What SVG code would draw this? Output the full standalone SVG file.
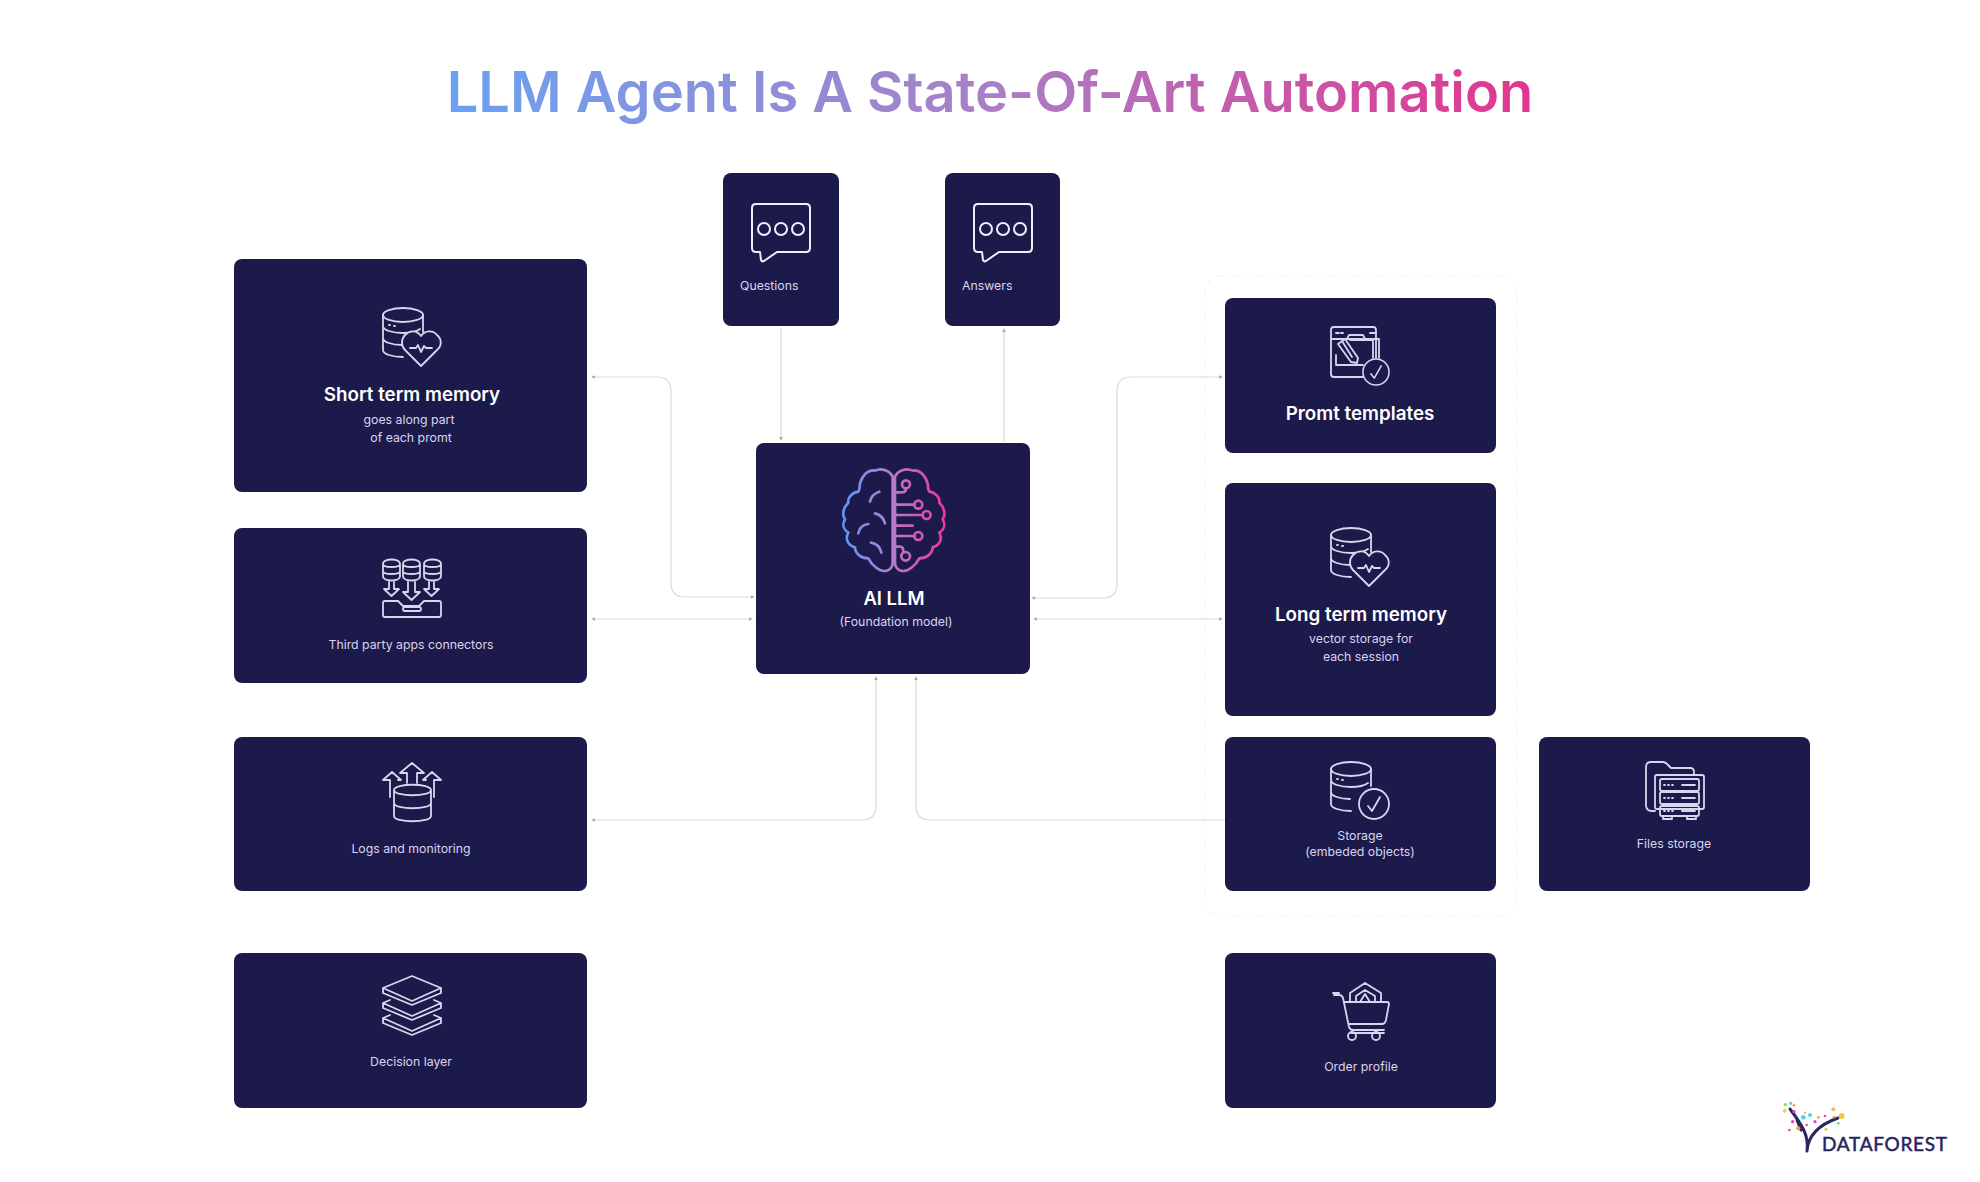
<svg xmlns="http://www.w3.org/2000/svg" xmlns:xlink="http://www.w3.org/1999/xlink" width="1980" height="1182" viewBox="0 0 1980 1182">
<style>
.card{fill:#1c1a4b}
.t{font-family:Inter,"Liberation Sans",sans-serif}
.h{font-weight:600;font-size:18.8px;fill:#fff;text-anchor:middle}
.s{font-size:12.3px;fill:#d8d5ee;text-anchor:middle}
.i{fill:none;stroke:#d8d5ee;stroke-width:1.8;stroke-linejoin:round;stroke-linecap:round}
.iw{fill:none;stroke:#f0eefa;stroke-width:2;stroke-linejoin:round;stroke-linecap:round}
.c{fill:none;stroke:#dadade;stroke-width:1.2}
</style>
<defs>
<linearGradient id="tg" gradientUnits="userSpaceOnUse" x1="447" y1="0" x2="1533" y2="0"><stop offset="0" stop-color="#6aa2f2"/><stop offset=".5" stop-color="#a97fc6"/><stop offset="1" stop-color="#e2358f"/></linearGradient>
<linearGradient id="bg" gradientUnits="userSpaceOnUse" x1="308" y1="0" x2="618" y2="0"><stop offset="0" stop-color="#5f97f0"/><stop offset=".45" stop-color="#b27fd0"/><stop offset="1" stop-color="#f0359a"/></linearGradient>
<marker id="a" viewBox="0 0 6 6" refX="5" refY="3" markerWidth="4" markerHeight="4" markerUnits="userSpaceOnUse" orient="auto-start-reverse"><path d="M0 0L6 3L0 6z" fill="#a9a9b6"/></marker>
<g id="db">
<ellipse cx="20" cy="7" rx="20" ry="7"/>
<path d="M0 7V42C0 46 9 49 20 49M40 7V24M0 18C0 22 9 25 20 25C27 25 33 24 37 21M0 30C0 34 9 37 19 37M0 30V18"/>
<path d="M6 17h1M11 18h1"/>
</g>
<g id="heart">
<path d="M19 35L3 19C-1 15 -1 8 3 4C8 -1 15 -1 19 5C23 -1 31 -1 35 4C40 8 40 15 35 19Z" class="i" style="fill:#1c1a4b"/>
<path d="M8 17h6l2-3 3 7 3-6 2 2h6"/>
</g>
<g id="check">
<circle r="15" style="fill:#1c1a4b"/>
<path d="M-6 2L-2 7L6 -7"/>
</g>
<g id="bubble">
<path d="M4 0H54Q58 0 58 4V44Q58 48 54 48H25L12 57Q10 58 9 56L8 48H4Q0 48 0 44V4Q0 0 4 0Z"/>
<circle cx="12" cy="25" r="6"/><circle cx="29" cy="25" r="6"/><circle cx="46" cy="25" r="6"/>
</g>
</defs>
<rect width="1980" height="1182" fill="#fff"/>
<text class="t" id="title" x="990" y="112" text-anchor="middle" font-size="56" font-weight="600" fill="url(#tg)">LLM Agent Is A State-Of-Art Automation</text>

<rect x="1205" y="276" width="312" height="640" rx="16" fill="none" stroke="#f4f4f7" stroke-width="1.2" stroke-dasharray="5 7"/>

<g id="connectors">
<path class="c" marker-start="url(#a)" marker-end="url(#a)" d="M754 597H685Q671 597 671 583V391Q671 377 657 377H592"/>
<path class="c" marker-start="url(#a)" marker-end="url(#a)" d="M592 619H752"/>
<path class="c" marker-start="url(#a)" marker-end="url(#a)" d="M876 677V806Q876 820 862 820H592"/>
<path class="c" marker-end="url(#a)" d="M781 328V440"/>
<path class="c" marker-end="url(#a)" d="M1004 442V329"/>
<path class="c" marker-start="url(#a)" marker-end="url(#a)" d="M1032 598H1103Q1117 598 1117 584V391Q1117 377 1131 377H1222"/>
<path class="c" marker-start="url(#a)" marker-end="url(#a)" d="M1034 619H1222"/>
<path class="c" marker-end="url(#a)" d="M1225 820H930Q916 820 916 806V677"/>
</g>

<g id="short-term-memory">
<rect class="card" x="234" y="259" width="353" height="233" rx="8"/>
<use href="#db" class="i" x="383" y="308"/>
<use href="#heart" class="i" x="402" y="331"/>
<text class="t h" x="412" y="401">Short term memory</text>
<text class="t s" x="409" y="424">goes along part</text>
<text class="t s" x="411" y="442">of each promt</text>
</g>

<g id="third-party">
<rect class="card" x="234" y="528" width="353" height="155" rx="8"/>
<g class="i">
<path d="M383 564c0-6 17-6 17 0v12c0 6-17 6-17 0zM383 571c0 4 17 4 17 0M383 564c0 4 17 4 17 0"/>
<path d="M403 564c0-6 17-6 17 0v12c0 6-17 6-17 0zM403 571c0 4 17 4 17 0M403 564c0 4 17 4 17 0"/>
<path d="M424 564c0-6 17-6 17 0v12c0 6-17 6-17 0zM424 571c0 4 17 4 17 0M424 564c0 4 17 4 17 0"/>
<path d="M389 582v7h-5l7.500 7 7.500-7h-5v-7M408 582v10h-5l8.500 8 8.500-8h-5v-10M429 582v7h-5l7.500 7 7.500-7h-5v-7"/>
<path d="M383 603v12q0 2 2 2h54q2 0 2-2v-12q0-2-2-2h-15l-5 5h-16l-5-5h-13q-2 0-2 2z"/>
<rect x="403" y="607" width="18" height="4" rx="2"/>
</g>
<text class="t s" x="411" y="649">Third party apps connectors</text>
</g>

<g id="logs">
<rect class="card" x="234" y="737" width="353" height="154" rx="8"/>
<g class="i">
<path d="M394 790c0-7 37-7 37 0v26c0 7-37 7-37 0zM394 790c0 7 37 7 37 0M394 803c0 7 37 7 37 0"/>
<path d="M407 783v-10h-7l12-10 12 10h-7v10"/>
<path d="M390 797v-17h-7l9-8 9 8h-3M434 797v-17h7l-9-8-9 8h3"/>
</g>
<text class="t s" x="411" y="853">Logs and monitoring</text>
</g>

<g id="decision">
<rect class="card" x="234" y="953" width="353" height="155" rx="8"/>
<g class="i">
<path d="M412 976L441 988V993L412 1005L383 993V988Z M383 988L412 1001L441 988"/>
<path d="M390 1000L383 1003V1008L412 1020L441 1008V1003L434 1000M383 1003L412 1016L441 1003"/>
<path d="M390 1015L383 1018V1023L412 1035L441 1023V1018L434 1015M383 1018L412 1031L441 1018"/>
</g>
<text class="t s" x="411" y="1066">Decision layer</text>
</g>

<g id="questions">
<rect class="card" x="723" y="173" width="116" height="153" rx="8"/>
<use href="#bubble" class="iw" x="752" y="204"/>
<text class="t s" x="740" y="290" style="text-anchor:start">Questions</text>
</g>

<g id="answers">
<rect class="card" x="945" y="173" width="115" height="153" rx="8"/>
<use href="#bubble" class="iw" x="974" y="204"/>
<text class="t s" x="962" y="290" style="text-anchor:start">Answers</text>
</g>

<g id="ai-llm">
<rect class="card" x="756" y="443" width="274" height="231" rx="8"/>
<g transform="translate(740 430) scale(.3333)" fill="none" stroke="url(#bg)" stroke-width="8" stroke-linecap="round" stroke-linejoin="round">
<path d="M458 400V140C450 122 425 112 405 122C385 118 368 135 360 160C358 172 360 180 355 185C335 188 322 205 325 218C310 232 305 255 315 268C305 285 312 300 325 308C315 325 322 345 345 352C345 372 365 385 385 385C395 405 420 428 440 422C450 420 458 410 458 400Z"/>
<path d="M465 400V140C473 122 498 112 518 122C538 118 555 135 563 160C565 172 563 180 568 185C588 188 601 205 598 218C613 232 618 255 608 268C618 285 611 300 598 308C608 325 601 345 578 352C578 372 558 385 538 385C528 405 503 428 483 422C473 420 465 410 465 400Z"/>
<path d="M465 187H488Q498 187 498 175"/><circle cx="498" cy="163" r="12"/>
<path d="M465 224H523"/><circle cx="535" cy="224" r="12"/>
<path d="M465 255H548"/><circle cx="560" cy="255" r="12"/>
<path d="M465 287H518"/>
<path d="M465 318H523"/><circle cx="535" cy="318" r="12"/>
<path d="M465 350H480Q490 350 490 365"/><circle cx="497" cy="379" r="13"/>
<path d="M390 215Q395 192 418 185M405 250Q428 255 435 280M355 310Q360 285 385 282M393 338Q418 342 424 368"/>
</g>
<text class="t" x="894" y="605" font-size="18.500" font-weight="600" fill="#fff" text-anchor="middle">AI LLM</text>
<text class="t s" x="896" y="626">(Foundation model)</text>
</g>

<g id="promt-templates">
<rect class="card" x="1225" y="298" width="271" height="155" rx="8"/>
<g class="i">
<path d="M1376 358V330q0-3-3-3H1334q-3 0-3 3v44q0 3 3 3H1363M1331 339H1379V358"/>
<path d="M1336 333h3M1341 333h2M1370 333h5M1347 339l2-4h14l2 4"/>
<path d="M1338 344L1345 339L1358 358L1357 363L1351 362ZM1342 341L1352 357"/>
<path d="M1350 340H1373V358M1336 355V365H1363"/>
</g>
<use href="#check" class="i" transform="translate(1376 372) scale(.87)"/>
<text class="t h" x="1360" y="420">Promt templates</text>
</g>

<g id="long-term-memory">
<rect class="card" x="1225" y="483" width="271" height="233" rx="8"/>
<use href="#db" class="i" x="1331" y="528"/>
<use href="#heart" class="i" x="1350" y="551"/>
<text class="t h" x="1361" y="621">Long term memory</text>
<text class="t s" x="1361" y="643">vector storage for</text>
<text class="t s" x="1361" y="661">each session</text>
</g>

<g id="storage">
<rect class="card" x="1225" y="737" width="271" height="154" rx="8"/>
<use href="#db" class="i" x="1331" y="762"/>
<use href="#check" class="i" x="1374" y="804"/>
<text class="t s" x="1360" y="840">Storage</text>
<text class="t s" x="1360" y="856">(embeded objects)</text>
</g>

<g id="files-storage">
<rect class="card" x="1539" y="737" width="271" height="154" rx="8"/>
<g class="i">
<path d="M1655 811H1652Q1646 811 1646 805V767Q1646 762 1651 762H1663Q1666 762 1668 765L1671 768H1690Q1694 768 1694 772V775"/>
<rect x="1655" y="775" width="49" height="34" rx="2"/>
<rect x="1660" y="779" width="39" height="12" rx="2"/>
<rect x="1660" y="792" width="39" height="12" rx="2"/>
<rect x="1660" y="806" width="39" height="10" rx="2"/>
<path d="M1664 785h1M1668 785h1M1672 785h1M1682 785h13M1664 798h1M1668 798h1M1672 798h1M1682 798h13M1664 811h1M1668 811h1M1672 811h1M1682 811h13M1663 816v3h9v-3M1687 816v3h9v-3"/>
</g>
<text class="t s" x="1674" y="848">Files storage</text>
</g>

<g id="order-profile">
<rect class="card" x="1225" y="953" width="271" height="155" rx="8"/>
<g class="i">
<path d="M1334 995H1339Q1342 995 1343 998L1349 1027Q1350 1030 1353 1030H1384M1351 1033H1384M1333 993H1339"/>
<path d="M1344 1002H1387Q1389 1002 1389 1004L1386 1020Q1385 1024 1382 1024H1349"/>
<path d="M1350 1002V993L1365 983L1381 993V1002M1356 1002V996L1365 990L1375 996V1002"/>
<path d="M1360 1002L1365 994L1370 1002"/>
<circle cx="1352" cy="1036" r="4"/><circle cx="1376" cy="1036" r="4"/>
</g>
<text class="t s" x="1361" y="1071">Order profile</text>
</g>

<g id="logo">
<path d="M1807 1151C1809 1135 1802 1125 1790 1109M1807 1151C1808 1136 1818 1125 1838 1118M1797 1120L1801 1130" fill="none" stroke="#2a2760" stroke-width="3" stroke-linecap="round"/>
<g transform="translate(1760 1080) scale(.3333)">
<circle cx="74" cy="92" r="6" fill="#f3d04a"/><circle cx="76" cy="74" r="5" fill="#8fd96a"/><circle cx="92" cy="70" r="5" fill="#62d6c8"/><circle cx="102" cy="76" r="4" fill="#f3a04a"/>
<circle cx="102" cy="95" r="5" fill="#c94ac9"/><circle cx="130" cy="112" r="7" fill="#4fd2e8"/><circle cx="150" cy="105" r="6" fill="#4fd2e8"/><circle cx="98" cy="125" r="5" fill="#e84aa0"/>
<circle cx="115" cy="145" r="6" fill="#f39a4a"/><circle cx="88" cy="150" r="4" fill="#e84aa0"/><circle cx="165" cy="125" r="5" fill="#d84ac9"/><circle cx="140" cy="135" r="4" fill="#e84aa0"/>
<circle cx="220" cy="88" r="6" fill="#f3c04a"/><circle cx="245" cy="108" r="9" fill="#f5c842"/><circle cx="222" cy="112" r="4" fill="#e88a4a"/><circle cx="198" cy="148" r="5" fill="#d8d84a"/><circle cx="195" cy="108" r="4" fill="#e84aa0"/><circle cx="235" cy="130" r="4" fill="#62d6c8"/><circle cx="175" cy="112" r="4" fill="#f3a04a"/><circle cx="135" cy="98" r="3" fill="#f3a04a"/>
</g>
<text x="1822" y="1151" font-family="Lato,'Liberation Sans',sans-serif" font-size="19" font-weight="400" fill="#27245f" stroke="#27245f" stroke-width=".5" textLength="125">DATAFOREST</text>
</g>
</svg>
